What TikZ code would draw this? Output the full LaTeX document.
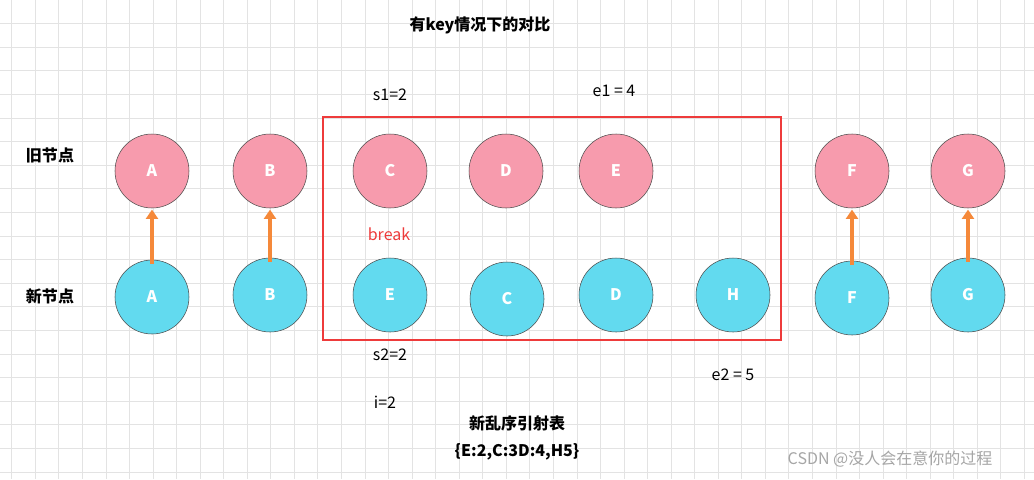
\documentclass[tikz,border=0pt]{standalone}
\usepackage{fontspec}
\setmainfont{Noto Sans CJK SC}
\usetikzlibrary{arrows.meta}
\definecolor{pk}{HTML}{F79BAD}
\definecolor{bl}{HTML}{62DAEF}
\definecolor{gridc}{HTML}{E3E3E3}
\definecolor{org}{HTML}{F5893A}
\definecolor{rd}{HTML}{EE3B3B}
\tikzset{
 old/.style={circle,draw=black!70,fill=pk,minimum size=55.5pt,inner sep=0,text=white,font=\bfseries\fontsize{12}{12}\selectfont},
 new/.style={old,fill=bl},
 lbl/.style={font=\fontsize{12}{14}\selectfont},
 blbl/.style={font=\bfseries\fontsize{12}{14}\selectfont},
 up/.style={draw=org,line width=2.5pt,-{Triangle[length=7pt,width=9pt]}}
}
\begin{document}
\begin{tikzpicture}[x=0.75pt,y=-0.75pt]
\useasboundingbox (0,0) rectangle (1034,479);
\fill[white] (0,0) rectangle (1034,479);
\foreach \i in {0,...,43} \draw[gridc,line width=0.6pt] ({11.7+23.55*\i},0) -- ({11.7+23.55*\i},479);
\foreach \j in {1,...,20} \draw[gridc,line width=0.6pt] (0,{23.6*\j}) -- (1034,{23.6*\j});
\node[blbl] (title) at (480,25) {有key情况下的对比};
\node[blbl] (oldl) at (50,155) {旧节点};
\node[blbl] (newl) at (50,296) {新节点};
\foreach \n/\x in {A/152,B/270,C/390,D/506,E/616,F/852,G/968} \node[old] (o\n) at (\x,171) {\n};
\foreach \n/\x/\y in {A/152/297,B/270/295,E/390/295,C/507/299,D/616/295,H/733/295,F/852/298,G/968/295} \node[new] (n\n) at (\x,\y) {\n};
\draw[rd,line width=1.5pt] (323,117) rectangle (781,340);
\foreach \n in {A,B,F,G} \draw[up] ([yshift=-3pt]n\n.north) -- ([yshift=-1pt]o\n.south);
\node[lbl] (s1) at (390,95) {s1=2};
\node[lbl] (e1) at (614,91) {e1 = 4};
\node[lbl,text=rd] (brk) at (389,234) {break};
\node[lbl] (s2) at (390,355) {s2=2};
\node[lbl] (e2) at (733,375) {e2 = 5};
\node[lbl] (i) at (385,402) {i=2};
\node[blbl] (map1) at (517,423) {新乱序引射表};
\node[blbl] (map2) at (517,452) {\{E:2,C:3D:4,H5\}};
\node[lbl,text=black!35] (wm) at (890,459) {CSDN @没人会在意你的过程};
\end{tikzpicture}
\end{document}
